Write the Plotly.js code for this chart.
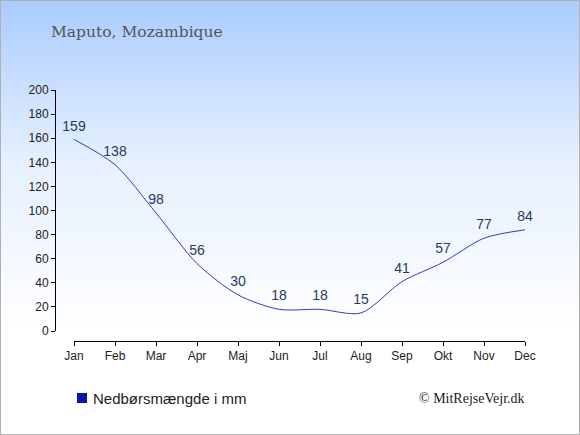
<!DOCTYPE html>
<html>
<head>
<meta charset="utf-8">
<script src="https://cdn.plot.ly/plotly-3.0.1.min.js"></script>
<style>
html,body{margin:0;padding:0;}
#wrap{position:relative;width:580px;height:435px;box-sizing:border-box;border:1px solid #b0b0b0;
background:linear-gradient(to bottom,#aaccff 0px,#e6f0ff 160px,#ffffff 330px,#ffffff 435px);}
#chart{position:absolute;left:-1px;top:-1px;width:580px;height:435px;}
</style>
</head>
<body>
<div id="wrap"><div id="chart"></div></div>
<script>
var months = ["Jan","Feb","Mar","Apr","Maj","Jun","Jul","Aug","Sep","Okt","Nov","Dec"];
var rainfall = [159,138,98,56,30,18,18,15,41,57,77,84];
var yTicks = [0,20,40,60,80,100,120,140,160,180,200];
var chartTitle = "Maputo, Mozambique";
var legendLabel = "Nedbørsmængde i mm";
var credit = "© MitRejseVejr.dk";

var W = 580, H = 435;
var ml = 40, mr = 55, mt = 90, mb = 94;
var pw = W - ml - mr, ph = H - mt - mb;

var trace = {
  x: months,
  y: rainfall,
  type: "scatter",
  mode: "lines+markers+text",
  line: {color: "#3038cc", width: 1, shape: "spline", smoothing: 0.8},
  marker: {size: 7, opacity: 0, color: "#3038cc"},
  text: rainfall.map(String),
  textposition: "top center",
  textfont: {family: "Liberation Sans, Arial, sans-serif", size: 14, color: "#253a5e"},
  hoverinfo: "none",
  showlegend: false,
  cliponaxis: false
};

var layout = {
  width: W, height: H,
  margin: {l: ml, r: mr, t: mt, b: mb, pad: 0},
  paper_bgcolor: "rgba(0,0,0,0)",
  plot_bgcolor: "rgba(0,0,0,0)",
  showlegend: false,
  font: {family: "Liberation Sans, Arial, sans-serif", color: "#222"},
  xaxis: {
    domain: [(74 - ml) / pw, 1],
    range: [0, 11],
    type: "category",
    anchor: "free", position: 0,
    showline: true, linecolor: "#000", linewidth: 1,
    ticks: "outside", ticklen: 4, tickcolor: "#000",
    showgrid: false, zeroline: false,
    tickfont: {size: 12, color: "#222"},
    fixedrange: true
  },
  yaxis: {
    domain: [(341 - 331) / ph, 1],
    range: [0, 200],
    tickvals: yTicks,
    anchor: "free", position: (55 - ml) / pw,
    showline: true, linecolor: "#000", linewidth: 1,
    ticks: "outside", ticklen: 4, tickcolor: "#000",
    showgrid: false, zeroline: false,
    tickfont: {size: 12, color: "#222"},
    fixedrange: true
  },
  annotations: [
    {text: chartTitle, xref: "paper", yref: "paper", x: (49 - ml) / pw, y: 1 + (90 - 32) / ph,
     xanchor: "left", yanchor: "middle", showarrow: false,
     font: {family: "DejaVu Serif, Liberation Serif, serif", size: 15.5, color: "#555"}},
    {text: legendLabel, xref: "paper", yref: "paper", x: (91 - ml) / pw, y: -(398 - 341) / ph,
     xanchor: "left", yanchor: "middle", showarrow: false,
     font: {family: "Liberation Sans, Arial, sans-serif", size: 15, color: "#222"}},
    {text: credit, xref: "paper", yref: "paper", x: (527 - ml) / pw, y: -(398 - 341) / ph,
     xanchor: "right", yanchor: "middle", showarrow: false,
     font: {family: "Liberation Serif, serif", size: 14, color: "#222"}}
  ],
  shapes: [
    {type: "rect", xref: "paper", yref: "paper",
     x0: (77 - ml) / pw, x1: (87 - ml) / pw,
     y0: -(403 - 341) / ph, y1: -(393 - 341) / ph,
     fillcolor: "#0a14aa", line: {width: 0}}
  ]
};

Plotly.newPlot("chart", [trace], layout, {staticPlot: true, displayModeBar: false});
</script>
</body>
</html>
